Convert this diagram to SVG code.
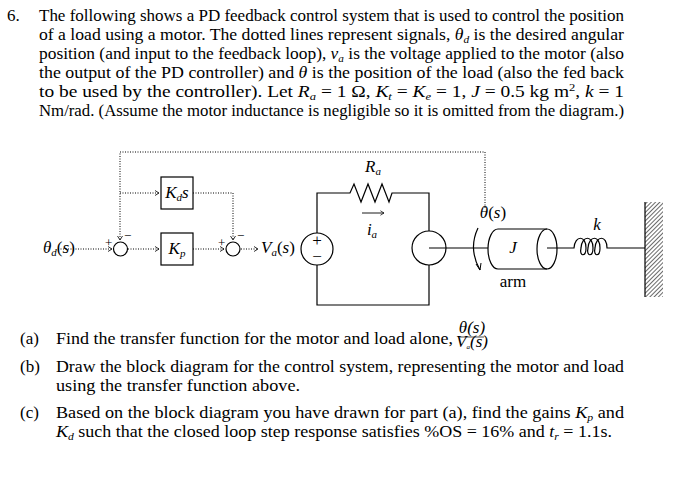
<svg xmlns="http://www.w3.org/2000/svg" width="688" height="480" viewBox="0 0 688 480">
<style>
text{font-family:"Liberation Serif","DejaVu Serif",serif;font-size:17px;fill:#000}
.m{font-style:italic}
.s{font-size:11px}
.d{fill:none;stroke:#000;stroke-width:1;stroke-dasharray:1 1.5}
.w{fill:none;stroke:#000;stroke-width:1.2}
.b{fill:#fff;stroke:#000;stroke-width:1.2}
.l{font-size:13px}
</style>
<defs>
<marker id="a" markerWidth="6" markerHeight="6" refX="5" refY="3" orient="auto"><path d="M1,0.5 L5,3 L1,5.5" fill="none" stroke="#000" stroke-width="0.8"/></marker>
<pattern id="h" width="3" height="3" patternUnits="userSpaceOnUse" patternTransform="rotate(45)"><rect width="3" height="3" fill="#fff"/><line x1="0" y1="0" x2="0" y2="3" stroke="#444" stroke-width="1.6"/></pattern>
</defs>
<rect width="688" height="480" fill="#fff"/>
<g id="para">
<text x="7" y="21">6.</text>
<text x="39" y="21" textLength="585" lengthAdjust="spacingAndGlyphs">The following shows a PD feedback control system that is used to control the position</text>
<text x="39" y="40" textLength="585" lengthAdjust="spacingAndGlyphs">of a load using a motor. The dotted lines represent signals, <tspan class="m">θ</tspan><tspan class="m s" dy="3">d</tspan><tspan dy="-3"> is the desired angular</tspan></text>
<text x="39" y="59" textLength="585" lengthAdjust="spacingAndGlyphs">position (and input to the feedback loop), <tspan class="m">v</tspan><tspan class="m s" dy="3">a</tspan><tspan dy="-3"> is the voltage applied to the motor (also</tspan></text>
<text x="39" y="78" textLength="585" lengthAdjust="spacingAndGlyphs">the output of the PD controller) and <tspan class="m">θ</tspan> is the position of the load (also the fed back</text>
<text x="39" y="97" textLength="585" lengthAdjust="spacingAndGlyphs">to be used by the controller). Let <tspan class="m">R</tspan><tspan class="m s" dy="3">a</tspan><tspan dy="-3"> = 1 Ω, </tspan><tspan class="m">K</tspan><tspan class="m s" dy="3">t</tspan><tspan dy="-3"> = </tspan><tspan class="m">K</tspan><tspan class="m s" dy="3">e</tspan><tspan dy="-3"> = 1, </tspan><tspan class="m">J</tspan> = 0.5 kg m<tspan class="s" dy="-6">2</tspan><tspan dy="6">, </tspan><tspan class="m">k</tspan> = 1</text>
<text x="39" y="116" textLength="585" lengthAdjust="spacingAndGlyphs">Nm/rad. (Assume the motor inductance is negligible so it is omitted from the diagram.)</text>
</g>
<g id="connectors">
<path class="d" d="M58,249 H112" marker-end="url(#a)"/>
<path class="d" d="M128,249 H159" marker-end="url(#a)"/>
<path class="d" d="M193,249 H224" marker-end="url(#a)"/>
<path class="d" d="M241,249 H258" marker-end="url(#a)"/>
<path class="d" d="M120,193 H159" marker-end="url(#a)"/>
<path class="d" d="M193,193 H233 V240" marker-end="url(#a)"/>
<path class="d" d="M485,208 V152 H120 V240" marker-end="url(#a)"/>
</g>
<g id="sum1"><circle class="b" cx="120.5" cy="249" r="7"/><text x="105" y="247" class="l">+</text><text x="124" y="240" class="l">−</text></g>
<g id="sum2"><circle class="b" cx="233" cy="249" r="7"/><text x="218" y="247" class="l">+</text><text x="237" y="240" class="l">−</text></g>
<g id="kd"><rect class="b" x="161" y="177" width="32" height="32"/><text x="177" y="198" text-anchor="middle" class="m" font-size="14">K<tspan class="s" dy="3">d</tspan><tspan dy="-3">s</tspan></text></g>
<g id="kp"><rect class="b" x="161" y="233" width="32" height="32"/><text x="177" y="254" text-anchor="middle" class="m" font-size="14">K<tspan class="s" dy="3">p</tspan></text></g>
<g id="labels">
<text x="43" y="253" class="m" font-size="14">θ<tspan class="s" dy="3">d</tspan><tspan dy="-3" font-style="normal">(</tspan>s<tspan font-style="normal">)</tspan></text>
<text x="261" y="253" class="m" font-size="14">V<tspan class="s" dy="3">a</tspan><tspan dy="-3" font-style="normal">(</tspan>s<tspan font-style="normal">)</tspan></text>
</g>
<g id="circuit">
<path class="w" d="M317,233 V193 H350 l4,-9 l7,18 l7,-18 l7,18 l7,-18 l7,18 l3,-9 H429 V231 M429,265 V305 H317 V265"/>
<circle class="b" cx="317" cy="249" r="16"/>
<text x="317" y="246" text-anchor="middle" font-size="11">+</text>
<text x="317" y="262" text-anchor="middle" font-size="11">−</text>
<circle class="b" cx="429" cy="248" r="17"/>
<path class="w" d="M429,248 H488"/>
<text x="373" y="172" text-anchor="middle" class="m" font-size="14">R<tspan class="s" dy="3">a</tspan></text>
<path d="M362,213 H384" stroke="#000" stroke-width="0.9" marker-end="url(#a)"/>
<text x="372" y="235" text-anchor="middle" class="m" font-size="14">i<tspan class="s" dy="3">a</tspan></text>
</g>
<g id="load">
<path class="w" d="M478,228 Q468,249 480,270"/>
<path d="M476,264 L480,270 L481,263" fill="none" stroke="#000" stroke-width="1"/>
<path class="w" d="M547,229 H498 A10,20 0 0 0 498,269 H547"/>
<ellipse class="w" cx="547" cy="249" rx="10" ry="20"/>
<path class="w" d="M547,248 H574 c1,-13 12,-13 12,0 c0,9 -7,9 -5,0 c1,-13 12,-13 12,0 c0,9 -7,9 -5,0 c1,-13 12,-13 12,0 c0,9 -7,9 -5,0 c1,-13 12,-13 12,0 H645"/>
<rect x="645" y="202" width="18" height="95" fill="url(#h)"/>
<line x1="645" y1="202" x2="645" y2="297" stroke="#000" stroke-width="1.2"/>
<text x="513" y="253" text-anchor="middle" class="m" font-size="14">J</text>
<text x="597" y="230" text-anchor="middle" class="m" font-size="14">k</text>
<text x="513" y="287" text-anchor="middle" font-size="13">arm</text>
<text x="493" y="218" text-anchor="middle" class="m" font-size="14"><tspan>θ</tspan><tspan font-style="normal">(</tspan>s<tspan font-style="normal">)</tspan></text>
</g>
<g id="questions">
<text x="20" y="344">(a)</text>
<text x="56" y="344" textLength="397" lengthAdjust="spacingAndGlyphs">Find the transfer function for the motor and load alone,</text>
<text x="472" y="333" class="m" font-size="10" text-anchor="middle">θ(s)</text>
<line x1="460" y1="337" x2="484" y2="337" stroke="#000" stroke-width="0.7"/>
<text x="472" y="347" class="m" font-size="10" text-anchor="middle">V<tspan font-size="7" dy="2">a</tspan><tspan dy="-2">(s)</tspan></text>
<text x="20" y="372">(b)</text>
<text x="56" y="372" textLength="568" lengthAdjust="spacingAndGlyphs">Draw the block diagram for the control system, representing the motor and load</text>
<text x="56" y="391" textLength="244" lengthAdjust="spacingAndGlyphs">using the transfer function above.</text>
<text x="20" y="418">(c)</text>
<text x="56" y="418" textLength="568" lengthAdjust="spacingAndGlyphs">Based on the block diagram you have drawn for part (a), find the gains <tspan class="m">K</tspan><tspan class="m s" dy="3">p</tspan><tspan dy="-3"> and</tspan></text>
<text x="56" y="437" textLength="556" lengthAdjust="spacingAndGlyphs"><tspan class="m">K</tspan><tspan class="m s" dy="3">d</tspan><tspan dy="-3"> such that the closed loop step response satisfies %OS = 16% and </tspan><tspan class="m">t</tspan><tspan class="m s" dy="3">r</tspan><tspan dy="-3"> = 1.1s.</tspan></text>
</g>
</svg>
